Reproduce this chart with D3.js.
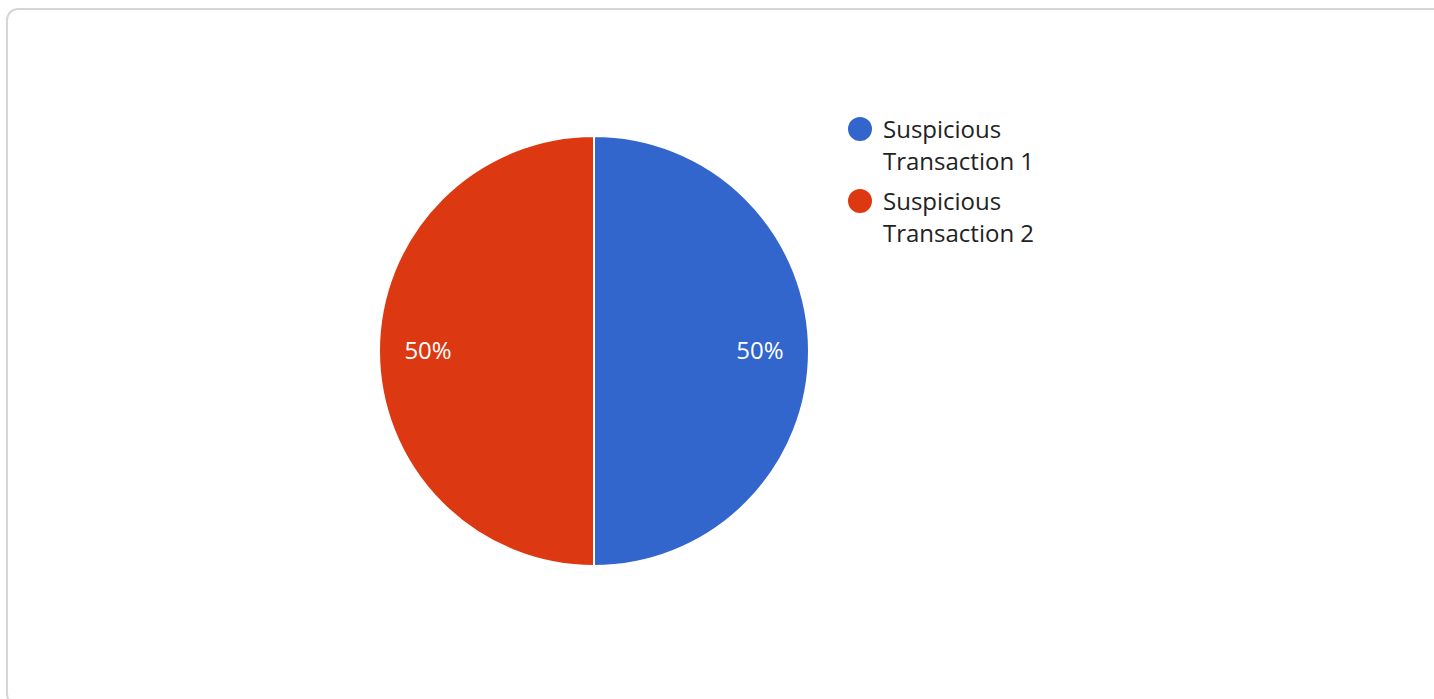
<!DOCTYPE html>
<html>
<head>
<meta charset="utf-8">
<script src="https://cdn.jsdelivr.net/npm/d3@7"></script>
<style>
  body { margin: 0; background: #fff; font-family: "Open Sans", "Noto Sans", sans-serif; }
  #card {
    position: absolute; left: 6px; top: 8px; width: 1440px; height: 698px;
    border: 2px solid #d6d6d6; border-radius: 12px; box-sizing: border-box;
  }
  svg { position: absolute; left: 0; top: 0; }
</style>
</head>
<body>
<div id="card"></div>
<svg id="chart" width="1434" height="699"></svg>
<script>
// data
const categories = ["Suspicious Transaction 1", "Suspicious Transaction 2"];
const values = [1, 1];
const colors = ["#3366cc", "#dc3912"];
const legendLines = [["Suspicious", "Transaction 1"], ["Suspicious", "Transaction 2"]];

const svg = d3.select("#chart");
const cx = 594, cy = 351, radius = 215;

const pie = d3.pie().sort(null).value(d => d.value);
const arcs = pie(categories.map((c, i) => ({name: c, value: values[i], color: colors[i]})));

const arc = d3.arc().innerRadius(0).outerRadius(radius);
const labelArc = d3.arc().innerRadius(radius * 0.772).outerRadius(radius * 0.772);

const g = svg.append("g").attr("transform", `translate(${cx},${cy})`);

g.selectAll("path.slice")
  .data(arcs)
  .enter()
  .append("path")
  .attr("class", "slice")
  .attr("d", arc)
  .attr("fill", d => d.data.color)
  .attr("stroke", "#fff")
  .attr("stroke-width", 2);

const total = d3.sum(values);
g.selectAll("text.pct")
  .data(arcs)
  .enter()
  .append("text")
  .attr("class", "pct")
  .attr("x", d => labelArc.centroid(d)[0])
  .attr("y", d => labelArc.centroid(d)[1])
  .attr("dy", "0.35em")
  .attr("text-anchor", "middle")
  .attr("fill", "#fff")
  .attr("font-size", 24)
  .text(d => Math.round(d.data.value / total * 100) + "%");

// legend
const legend = svg.append("g").attr("transform", "translate(860,129)");
const item = legend.selectAll("g.item")
  .data(categories)
  .enter()
  .append("g")
  .attr("class", "item")
  .attr("transform", (d, i) => `translate(0,${i * 72})`);

item.append("circle")
  .attr("r", 12)
  .attr("fill", (d, i) => colors[i]);

item.append("text")
  .attr("x", 23)
  .attr("y", 9)
  .attr("font-size", 24)
  .attr("fill", "#222")
  .selectAll("tspan")
  .data((d, i) => legendLines[i])
  .enter()
  .append("tspan")
  .attr("x", 23)
  .attr("dy", (d, j) => j === 0 ? 0 : 32)
  .text(d => d);
</script>
</body>
</html>
